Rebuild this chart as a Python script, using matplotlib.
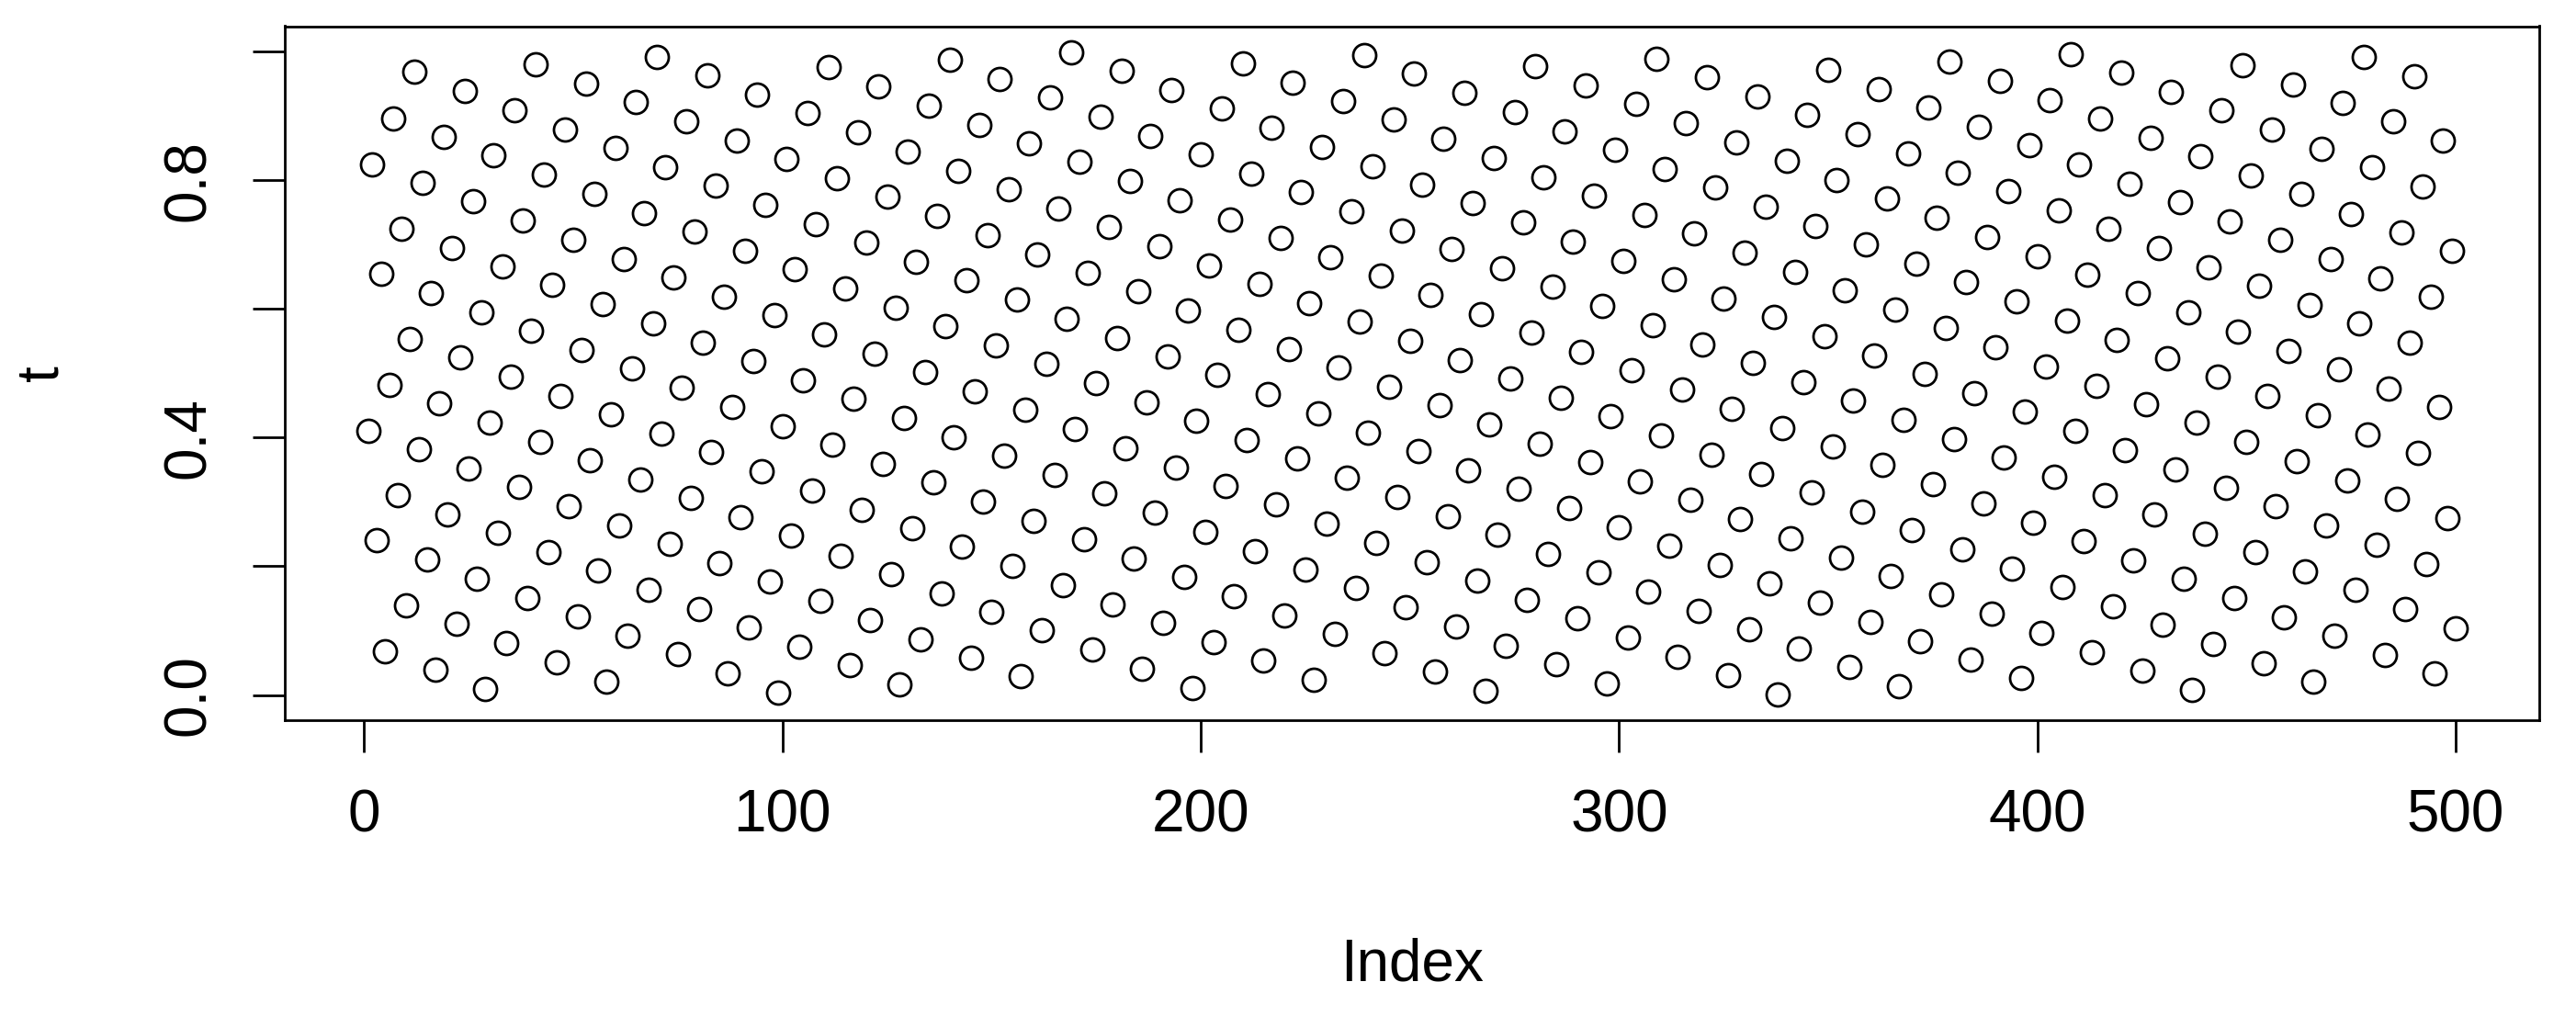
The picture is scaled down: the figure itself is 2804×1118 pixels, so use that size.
import matplotlib
matplotlib.use("Agg")
import matplotlib.pyplot as plt
import numpy as np

# Values t[i] (Index 1..500)
t = [
    # Index 1-29
    0.411, 0.825, 0.240, 0.654, 0.068, 0.482, 0.896, 0.311, 0.725, 0.139, 0.553, 0.968, 0.382, 0.796, 0.210,
    0.624, 0.039, 0.453, 0.867, 0.281, 0.695, 0.110, 0.524, 0.938, 0.352, 0.767, 0.181, 0.595, 0.009,
    # 30-58
    0.423, 0.838, 0.252, 0.666, 0.080, 0.494, 0.909, 0.323, 0.737, 0.151, 0.566, 0.980, 0.394, 0.808, 0.222,
    0.637, 0.051, 0.465, 0.879, 0.293, 0.708, 0.122, 0.536, 0.950, 0.365, 0.779, 0.193, 0.607, 0.021,
    # 59-87
    0.436, 0.850, 0.264, 0.678, 0.092, 0.507, 0.921, 0.335, 0.749, 0.164, 0.578, 0.992, 0.406, 0.820, 0.235,
    0.649, 0.063, 0.477, 0.891, 0.306, 0.720, 0.134, 0.548, 0.963, 0.377, 0.791, 0.205, 0.619, 0.034,
    # 88-116
    0.448, 0.862, 0.276, 0.690, 0.105, 0.519, 0.933, 0.347, 0.761, 0.176, 0.590, 0.004, 0.418, 0.833, 0.247,
    0.661, 0.075, 0.489, 0.904, 0.318, 0.732, 0.146, 0.560, 0.975, 0.389, 0.803, 0.217, 0.632, 0.046,
    # 117-145
    0.460, 0.874, 0.288, 0.703, 0.117, 0.531, 0.945, 0.359, 0.774, 0.188, 0.602, 0.016, 0.431, 0.845, 0.259,
    0.673, 0.087, 0.502, 0.916, 0.330, 0.744, 0.158, 0.573, 0.987, 0.401, 0.815, 0.230, 0.644, 0.058,
    # 146-174
    0.472, 0.886, 0.301, 0.715, 0.129, 0.543, 0.957, 0.372, 0.786, 0.200, 0.614, 0.029, 0.443, 0.857, 0.271,
    0.685, 0.100, 0.514, 0.928, 0.342, 0.756, 0.171, 0.585, 0.999, 0.413, 0.828, 0.242, 0.656, 0.070,
    # 175-203
    0.484, 0.899, 0.313, 0.727, 0.141, 0.555, 0.970, 0.384, 0.798, 0.212, 0.627, 0.041, 0.455, 0.869, 0.283,
    0.698, 0.112, 0.526, 0.940, 0.354, 0.769, 0.183, 0.597, 0.011, 0.426, 0.840, 0.254, 0.668, 0.082,
    # 204-232
    0.497, 0.911, 0.325, 0.739, 0.153, 0.568, 0.982, 0.396, 0.810, 0.224, 0.639, 0.053, 0.467, 0.881, 0.296,
    0.710, 0.124, 0.538, 0.952, 0.367, 0.781, 0.195, 0.609, 0.023, 0.438, 0.852, 0.266, 0.680, 0.095,
    # 233-261
    0.509, 0.923, 0.337, 0.751, 0.166, 0.580, 0.994, 0.408, 0.822, 0.237, 0.651, 0.065, 0.479, 0.894, 0.308,
    0.722, 0.136, 0.550, 0.965, 0.379, 0.793, 0.207, 0.621, 0.036, 0.450, 0.864, 0.278, 0.693, 0.107,
    # 262-290
    0.521, 0.935, 0.349, 0.764, 0.178, 0.592, 0.006, 0.420, 0.835, 0.249, 0.663, 0.077, 0.492, 0.906, 0.320,
    0.734, 0.148, 0.563, 0.977, 0.391, 0.805, 0.219, 0.634, 0.048, 0.462, 0.876, 0.291, 0.705, 0.119,
    # 291-319
    0.533, 0.947, 0.362, 0.776, 0.190, 0.604, 0.018, 0.433, 0.847, 0.261, 0.675, 0.089, 0.504, 0.918, 0.332,
    0.746, 0.161, 0.575, 0.989, 0.403, 0.817, 0.232, 0.646, 0.060, 0.474, 0.888, 0.303, 0.717, 0.131,
    # 320-348
    0.545, 0.960, 0.374, 0.788, 0.202, 0.616, 0.031, 0.445, 0.859, 0.273, 0.687, 0.102, 0.516, 0.930, 0.344,
    0.759, 0.173, 0.587, 0.001, 0.415, 0.830, 0.244, 0.658, 0.072, 0.486, 0.901, 0.315, 0.729, 0.143,
    # 349-377
    0.558, 0.972, 0.386, 0.800, 0.214, 0.629, 0.043, 0.457, 0.871, 0.285, 0.700, 0.114, 0.528, 0.942, 0.357,
    0.771, 0.185, 0.599, 0.013, 0.428, 0.842, 0.256, 0.670, 0.084, 0.499, 0.913, 0.327, 0.741, 0.156,
    # 378-406
    0.570, 0.984, 0.398, 0.812, 0.227, 0.641, 0.055, 0.469, 0.883, 0.298, 0.712, 0.126, 0.540, 0.954, 0.369,
    0.783, 0.197, 0.611, 0.026, 0.440, 0.854, 0.268, 0.682, 0.097, 0.511, 0.925, 0.339, 0.753, 0.168,
    # 407-435
    0.582, 0.996, 0.410, 0.825, 0.239, 0.653, 0.067, 0.481, 0.896, 0.310, 0.724, 0.138, 0.552, 0.967, 0.381,
    0.795, 0.209, 0.624, 0.038, 0.452, 0.866, 0.280, 0.695, 0.109, 0.523, 0.937, 0.351, 0.766, 0.180,
    # 436-464
    0.594, 0.008, 0.423, 0.837, 0.251, 0.665, 0.079, 0.494, 0.908, 0.322, 0.736, 0.150, 0.565, 0.979, 0.393,
    0.807, 0.222, 0.636, 0.050, 0.464, 0.878, 0.293, 0.707, 0.121, 0.535, 0.949, 0.364, 0.778, 0.192,
    # 465-493
    0.606, 0.021, 0.435, 0.849, 0.263, 0.677, 0.092, 0.506, 0.920, 0.334, 0.748, 0.163, 0.577, 0.991, 0.405,
    0.820, 0.234, 0.648, 0.062, 0.476, 0.891, 0.305, 0.719, 0.133, 0.547, 0.962, 0.376, 0.790, 0.204,
    # 494-500
    0.619, 0.033, 0.447, 0.861, 0.275, 0.690, 0.104,
]
index = list(range(1, len(t) + 1))

x_ticks = [0, 100, 200, 300, 400, 500]
x_tick_labels = ["0", "100", "200", "300", "400", "500"]
y_ticks = [0.0, 0.2, 0.4, 0.6, 0.8, 1.0]
y_tick_labels = ["0.0", "", "0.4", "", "0.8", ""]
x_label = "Index"
y_label = "t"

plt.rcParams['font.family'] = ['Liberation Sans', 'DejaVu Sans']

fig = plt.figure(figsize=(28.04, 11.18), dpi=100)
fig.patch.set_facecolor('white')
ax = fig.add_axes([310 / 2804, (1118 - 784) / 1118, 2454 / 2804, 755.5 / 1118])

ax.plot(index, t, linestyle='none', marker='o', markersize=18,
        markerfacecolor='none', markeredgecolor='black', markeredgewidth=2.0)

ax.set_xlim(-18.96, 519.96)
ax.set_ylim(-0.0392, 1.0392)

ax.set_xticks(x_ticks)
ax.set_xticklabels(x_tick_labels, fontsize=46)
ax.set_yticks(y_ticks)
ax.set_yticklabels(y_tick_labels, fontsize=46, rotation=90, va='center', ha='right')

ax.tick_params(axis='both', direction='out', length=25, width=2.0, color='black')
ax.tick_params(axis='x', pad=29)
ax.tick_params(axis='y', pad=28)

for sp in ax.spines.values():
    sp.set_linewidth(2.0)
    sp.set_color('black')

ax.set_xlabel(x_label, fontsize=46)
ax.xaxis.set_label_coords(0.5, (784 - 1050) / 755.5)
ax.xaxis.label.set_va('center')
ax.set_ylabel(y_label, fontsize=46, rotation=90)
ax.yaxis.set_label_coords((45 - 310) / 2454, 0.5)
ax.yaxis.label.set_va('center')
ax.yaxis.label.set_ha('center')

fig.savefig('out.png', dpi=100, facecolor='white')
